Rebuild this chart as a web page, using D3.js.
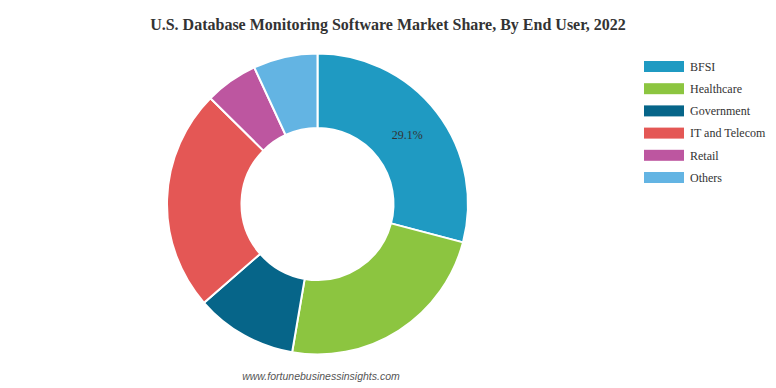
<!DOCTYPE html>
<html lang="en">
<head>
  <meta charset="UTF-8" />
  <title>U.S. Database Monitoring Software Market Share, By End User, 2022</title>
  <style>
    body { margin: 0; background: #fff; }
    svg { display: block; }
    .title { font-family: "Liberation Serif", "DejaVu Serif", serif; font-size: 16px; font-weight: bold; fill: #333; }
    .legend text { font-family: "Liberation Serif", serif; font-size: 12px; fill: #333; }
    .slice-label { font-family: "Liberation Serif", serif; font-size: 12px; fill: #333; }
    .source { font-family: "Liberation Sans", Arial, sans-serif; font-size: 10.5px; font-style: italic; fill: #555; }
  </style>
</head>
<body>
<svg id="chart"></svg>
<script src="https://cdn.jsdelivr.net/npm/d3@7"></script>
<script>
// data
const categories = ["BFSI", "Healthcare", "Government", "IT and Telecom", "Retail", "Others"];
const shares = [29.1, 23.6, 10.9, 23.8, 5.7, 6.9];
const colors = ["#1f9ac2", "#8cc540", "#066589", "#e45755", "#bd56a0", "#63b4e3"];
const labelled = ["BFSI"];

const width = 776, height = 388;
const svg = d3.select("#chart").attr("width", width).attr("height", height);

svg.append("text")
  .attr("class", "title")
  .attr("x", 388)
  .attr("y", 30)
  .attr("text-anchor", "middle")
  .text("U.S. Database Monitoring Software Market Share, By End User, 2022");

// donut
const cx = 317.5, cy = 204, outerR = 150.5, innerR = 76;
const data = categories.map((c, i) => ({ name: c, value: shares[i], color: colors[i] }));

const pie = d3.pie().value(d => d.value).sort(null);
const arc = d3.arc().innerRadius(innerR).outerRadius(outerR);
const labelArc = d3.arc().innerRadius((innerR + outerR) / 2).outerRadius((innerR + outerR) / 2);

const g = svg.append("g").attr("transform", `translate(${cx},${cy})`);

g.selectAll("path")
  .data(pie(data))
  .enter()
  .append("path")
  .attr("d", arc)
  .attr("fill", d => d.data.color)
  .attr("stroke", "#fff")
  .attr("stroke-width", 2);

g.selectAll(".slice-label")
  .data(pie(data).filter(d => labelled.includes(d.data.name)))
  .enter()
  .append("text")
  .attr("class", "slice-label")
  .attr("transform", d => `translate(${labelArc.centroid(d)})`)
  .attr("text-anchor", "middle")
  .attr("dy", "0.35em")
  .text(d => d.data.value.toFixed(1) + "%");

// legend
const legend = svg.append("g")
  .attr("class", "legend")
  .attr("transform", "translate(644, 61)");

data.forEach((d, i) => {
  const row = legend.append("g").attr("transform", `translate(0, ${i * 22.2})`);
  row.append("rect")
    .attr("width", 40)
    .attr("height", 11)
    .attr("fill", d.color);
  row.append("text")
    .attr("x", 46)
    .attr("y", 5.5)
    .attr("dy", "0.35em")
    .text(d.name);
});

svg.append("text")
  .attr("class", "source")
  .attr("x", 321)
  .attr("y", 380)
  .attr("text-anchor", "middle")
  .text("www.fortunebusinessinsights.com");
</script>
</body>
</html>
